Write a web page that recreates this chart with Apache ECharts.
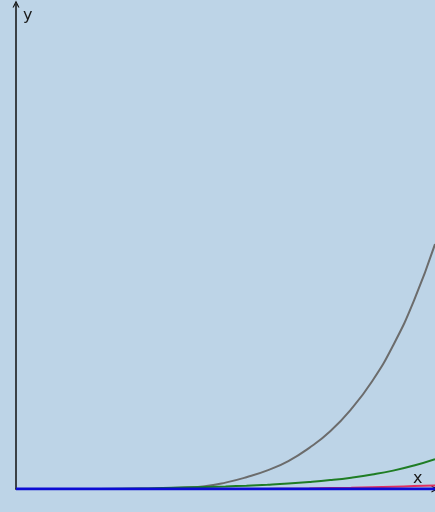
<!DOCTYPE html>
<html>
<head>
<meta charset="utf-8">
<script src="https://cdn.jsdelivr.net/npm/echarts@6/dist/echarts.min.js"></script>
<style>
html,body{margin:0;padding:0;background:#bdd4e7;}
#chart{width:435px;height:512px;}
</style>
</head>
<body>
<div id="chart"></div>
<script>
const xValues   = [0, 1, 2, 3, 3.5, 4, 4.5, 5, 5.5, 6, 6.5, 7, 7.5, 8, 8.5, 9, 9.5, 10];
const grayVals  = [0, 0, 0, 0.05, 0.12, 0.3, 0.55, 1.3, 2.4, 3.8, 5.7, 8.4, 11.8, 16.3, 22.0, 29.3, 38.5, 50];
const greenVals = [0, 0, 0.02, 0.1, 0.2, 0.3, 0.4, 0.52, 0.67, 0.86, 1.1, 1.42, 1.82, 2.32, 2.95, 3.75, 4.8, 6.1];
const redVals   = [0, 0, 0, 0, 0, 0, 0, 0, 0, 0.02, 0.05, 0.1, 0.18, 0.26, 0.36, 0.47, 0.59, 0.72];
const blueVals  = [0, 0, 0, 0, 0, 0, 0, 0, 0, 0, 0, 0, 0, 0, 0, 0, 0, 0];
const xName = 'x';
const yName = 'y';

const pair = (ys) => xValues.map((x, i) => [x, ys[i]]);
const arrow = 'path://M0,10 L5,0 L10,10 L8.2,10 L5,3.6 L1.8,10 Z';

const chart = echarts.init(document.getElementById('chart'), null, {renderer: 'canvas'});
chart.setOption({
  backgroundColor: '#bdd4e7',
  animation: false,
  grid: {left: 16, right: 0, top: 4, bottom: 23},
  xAxis: {
    type: 'value', min: 0, max: 10,
    name: xName, nameLocation: 'end', nameGap: -22,
    nameTextStyle: {color: '#1a1a1a', fontSize: 16, fontFamily: 'DejaVu Sans', verticalAlign: 'bottom', padding: [0, 0, 2, 0]},
    axisLine: {show: true, lineStyle: {color: '#111', width: 1.5}, symbol: ['none', arrow], symbolSize: [9, 7]},
    axisTick: {show: false}, axisLabel: {show: false}, splitLine: {show: false}
  },
  yAxis: {
    type: 'value', min: 0, max: 99,
    name: yName, nameLocation: 'end', nameGap: -12,
    nameTextStyle: {color: '#1a1a1a', fontSize: 16, fontFamily: 'DejaVu Sans', align: 'left', verticalAlign: 'middle', padding: [0, 0, 0, 7]},
    axisLine: {show: true, lineStyle: {color: '#111', width: 1.5}, symbol: ['none', arrow], symbolSize: [9, 7]},
    axisTick: {show: false}, axisLabel: {show: false}, splitLine: {show: false}
  },
  series: [
    {type: 'line', data: pair(grayVals), showSymbol: false, smooth: true, lineStyle: {color: '#6c6c6c', width: 2}},
    {type: 'line', data: pair(greenVals), showSymbol: false, smooth: true, lineStyle: {color: '#1f7d24', width: 2}},
    {type: 'line', data: pair(redVals), showSymbol: false, smooth: true, lineStyle: {color: '#e0305e', width: 2}},
    {type: 'line', data: pair(blueVals), showSymbol: false, lineStyle: {color: '#0c0cd4', width: 3}}
  ]
});
</script>
</body>
</html>
